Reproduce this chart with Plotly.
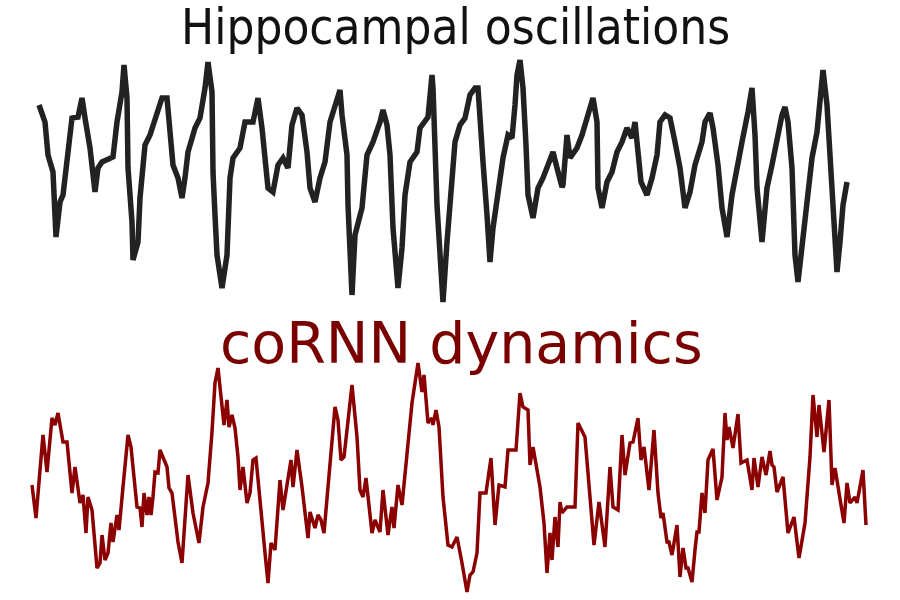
import plotly.graph_objects as go

# hippocampal LFP trace (time in samples, amplitude in arbitrary units)
hip_t = [39, 45, 48, 53, 56, 60, 63, 67, 72, 78, 82, 85, 90, 95, 98, 102, 113, 117, 122, 124,
         127, 128, 132, 133, 138, 140, 145, 150, 157, 162, 167, 170, 173, 178, 182, 185, 188,
         195, 200, 205, 208, 212, 213, 215, 217, 222, 227, 230, 233, 240, 245, 253, 258, 262,
         265, 268, 273, 278, 283, 288, 292, 297, 302, 307, 310, 315, 320, 325, 330, 337, 340,
         342, 347, 348, 352, 355, 362, 367, 373, 380, 383, 387, 390, 393, 398, 402, 405, 410,
         417, 420, 425, 428, 432, 433, 437, 440, 443, 447, 452, 455, 460, 465, 470, 475, 478,
         480, 483, 487, 490, 493, 498, 503, 508, 512, 515, 517, 520, 523, 526, 528, 533, 538,
         543, 548, 553, 557, 562, 563, 567, 570, 577, 582, 587, 590, 593, 597, 598, 602, 607,
         612, 617, 622, 627, 632, 635, 638, 641, 647, 652, 657, 660, 665, 670, 675, 680, 685,
         690, 695, 702, 705, 710, 713, 718, 722, 727, 732, 737, 742, 748, 752, 755, 757, 762,
         767, 772, 777, 782, 785, 788, 792, 795, 798, 802, 807, 812, 817, 820, 823, 827, 830,
         833, 837, 840, 843, 847]
hip_v = [75, 58, 25, 8, -57, -22, -15, 18, 62, 63, 82, 62, 32, -12, 12, 18, 23, 58, 88, 115,
         82, 12, -42, -80, -62, -18, 35, 45, 68, 82, 82, 48, 15, 2, -18, 2, 28,
         52, 62, 92, 118, 88, 8, -35, -75, -108, -75, 2, 22, 32, 58, 58, 82, 52, 25,
         -8, -12, 15, 22, 12, 55, 72, 65, 28, -8, -22, 2, 18, 58, 78, 90, 65,
         25, -25, -115, -55, -28, 25, 38, 58, 70, 55, 25, -48, -108, -68, -15, 18, 28,
         52, 60, 63, 105, 92, -25, -82, -122, -62, -8, 38, 55, 62, 85, 92, 92, 58,
         18, -35, -82, -48, -15, 22, 45, 42, 75, 105, 120, 92, 35, -15, -38, -8, 2,
         15, 28, 12, -7, -5, 45, 22, 32, 45, 65, 72, 82, 58, -8, -28, -2, 8,
         28, 38, 52, 42, 58, 32, -2, -15, 2, 25, 58, 65, 62, 38, 12, -28, -12,
         15, 38, 58, 67, 52, 15, -28, -57, -15, 15, 38, 68, 92, 45, -8, -62, -8,
         15, 42, 65, 73, 58, 12, -75, -102, -68, -18, 22, 48, 82, 110, 75, 25, -35,
         -92, -62, -25, -2, 25]

# coRNN output trace
rnn_t = [32, 36, 40, 43, 47, 52, 55, 58, 63, 67, 72, 75, 80, 83, 86, 88, 92, 97, 100, 102,
         105, 108, 111, 113, 117, 119, 123, 128, 131, 137, 140, 142, 144, 147, 149, 151, 153,
         155, 158, 160, 167, 169, 172, 178, 182, 188, 193, 199, 203, 207, 208, 212, 215, 218,
         221, 224, 227, 229, 232, 235, 238, 240, 243, 247, 250, 253, 256, 260, 265, 268, 271,
         275, 280, 283, 288, 291, 293, 297, 302, 308, 310, 315, 318, 321, 324, 330, 335, 338,
         341, 344, 352, 357, 360, 363, 366, 372, 375, 380, 383, 388, 392, 394, 398, 402, 407,
         412, 418, 422, 424, 428, 432, 433, 436, 439, 443, 448, 452, 457, 462, 467, 470, 473,
         477, 480, 486, 491, 495, 499, 505, 508, 516, 520, 523, 528, 530, 533, 540, 544, 547,
         550, 552, 555, 558, 560, 562, 567, 575, 578, 585, 591, 594, 599, 605, 610, 613, 618,
         622, 625, 630, 633, 638, 641, 644, 649, 654, 658, 661, 663, 667, 669, 672, 677, 680,
         683, 686, 688, 692, 695, 697, 699, 702, 705, 708, 713, 717, 722, 725, 727, 729, 733,
         738, 741, 747, 752, 754, 758, 762, 766, 770, 772, 774, 777, 783, 788, 794, 799, 805,
         810, 813, 817, 819, 824, 829, 832, 835, 841, 844, 847, 850, 855, 857, 863, 866]
rnn_v = [-10, -43, 5, 40, 3, 57, 50, 62, 33, 33, -18, 8, -28, -20, -58, -22, -35, -93, -88,
         -60, -85, -78, -48, -67, -40, -55, -12, 40, 28, -32, -33, -52, -18, -40, -22, -40,
         -22, 3, 2, 25, 8, -13, -18, -67, -88, 0, -38, -68, -32, -12, -8, 43, 92, 107,
         78, 50, 75, 48, 60, 47, 18, -15, 8, -28, -18, 15, 17, -28, -78, -108, -68,
         -75, -5, -35, -2, 15, -12, 25, -12, -63, -37, -53, -40, -45, -58, 15, 68, 55,
         15, 18, 90, 38, -15, -22, -3, -58, -45, -57, -15, -60, -32, -53, -10, -30, 22,
         72, 112, 83, 100, 52, 57, 50, 65, 48, -22, -70, -72, -62, -88, -117, -100, -97,
         -78, -18, -18, 17, -50, -10, -12, 25, 25, 82, 68, 65, 10, 28, -12, -48, -98, -58,
         -85, -42, -72, -27, -38, -32, -32, 52, 38, -35, -70, -27, -72, 8, -32, -35, 40,
         0, 32, 33, 57, 15, 28, -15, 45, -18, -43, -38, -67, -67, -80, -50, -102, -73,
         -93, -93, -107, -75, -57, -57, -18, -38, 15, 26, -25, -2, 62, 35, 48, 27, 61,
         12, 15, -15, 17, -12, 18, 0, 24, 10, 8, -17, -2, -58, -42, -83, -48, 18,
         80, 38, 70, 23, 75, -10, 7, -30, -48, -8, -28, -22, -28, 5, -50, -10]

W, H = 900, 600

fig = go.Figure()

fig.add_trace(go.Scatter(
    x=hip_t, y=hip_v, mode="lines",
    line=dict(color="#222222", width=5.5),
    yaxis="y", showlegend=False, hoverinfo="skip",
))

fig.add_trace(go.Scatter(
    x=rnn_t, y=rnn_v, mode="lines",
    line=dict(color="#8b0000", width=3.5),
    yaxis="y2", showlegend=False, hoverinfo="skip",
))

fig.add_annotation(
    text="Hippocampal oscillations", x=455, y=1 - 28 / H,
    xref="x", yref="paper", xanchor="center", yanchor="middle", showarrow=False,
    font=dict(family="DejaVu Sans Condensed, DejaVu Sans", size=49, color="#111111"),
)
fig.add_annotation(
    text="coRNN dynamics", x=461, y=1 - 343 / H,
    xref="x", yref="paper", xanchor="center", yanchor="middle", showarrow=False,
    font=dict(family="DejaVu Sans", size=57, color="#7a0000"),
)

noaxis = dict(visible=False, showgrid=False, zeroline=False, fixedrange=True)
fig.update_layout(
    width=W, height=H,
    margin=dict(l=0, r=0, t=0, b=0),
    paper_bgcolor="white", plot_bgcolor="white",
    xaxis=dict(range=[0, 900], **noaxis),
    yaxis=dict(range=[-420, 180], domain=[0, 1], **noaxis),
    yaxis2=dict(range=[-125, 475], domain=[0, 1], overlaying="y", **noaxis),
)

# drop the browser's default body margin so the figure sits flush in the window
fig.write_html("out.html", config={"displayModeBar": False},
               post_script="document.body.style.margin='0';")
